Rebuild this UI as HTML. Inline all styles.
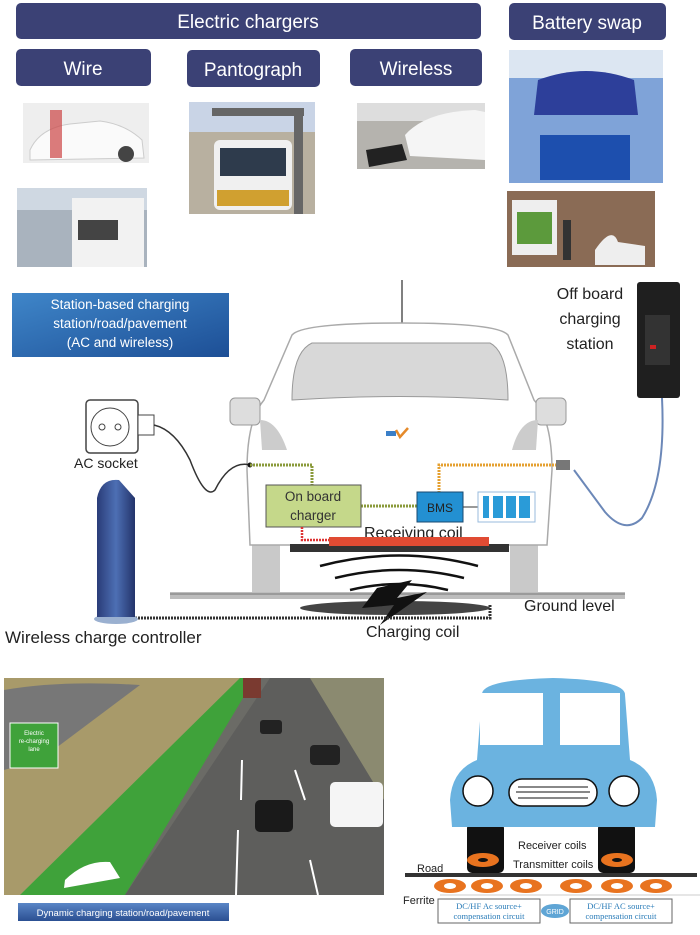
<!DOCTYPE html>
<html><head><meta charset="utf-8"><style>
html,body{margin:0;padding:0;background:#fff;}
svg{display:block;font-family:"Liberation Sans",sans-serif;}
</style></head><body>
<svg width="700" height="935" viewBox="0 0 700 935" xmlns="http://www.w3.org/2000/svg">
<defs>
<linearGradient id="bg1" x1="0" y1="0" x2="1" y2="1"><stop offset="0" stop-color="#3f86c9"/><stop offset="1" stop-color="#1d4f96"/></linearGradient>
<linearGradient id="bg2" x1="0" y1="0" x2="0" y2="1"><stop offset="0" stop-color="#5a86c6"/><stop offset="1" stop-color="#2b4f92"/></linearGradient>
<linearGradient id="pil" x1="0" y1="0" x2="1" y2="0"><stop offset="0" stop-color="#2a3c78"/><stop offset=".5" stop-color="#4d6fb4"/><stop offset="1" stop-color="#23336a"/></linearGradient>
</defs>
<!-- header bars -->
<g fill="#3b4175">
<rect x="16" y="3" width="465" height="36" rx="5"/>
<rect x="509" y="3" width="157" height="37" rx="5"/>
<rect x="16" y="49" width="135" height="37" rx="5"/>
<rect x="187" y="50" width="133" height="37" rx="5"/>
<rect x="350" y="49" width="132" height="37" rx="5"/>
</g>
<g fill="#fff" font-size="19" text-anchor="middle">
<text x="248" y="28">Electric chargers</text>
<text x="587" y="29">Battery swap</text>
<text x="83" y="75">Wire</text>
<text x="253" y="76">Pantograph</text>
<text x="416" y="75">Wireless</text>
</g>
<!-- photos -->
<rect x="23" y="103" width="126" height="60" fill="#eeeeee"/>
<path d="M30 150 Q40 128 70 124 L100 121 Q125 124 142 140 L144 158 L30 160Z" fill="#fafafa" stroke="#ccc"/>
<rect x="50" y="110" width="12" height="48" fill="#c44" opacity=".7"/>
<circle cx="126" cy="154" r="8" fill="#444"/>
<rect x="17" y="188" width="130" height="79" fill="#a9b3be"/>
<rect x="17" y="188" width="130" height="22" fill="#cfd8e2"/>
<rect x="72" y="198" width="72" height="69" fill="#f2f2f2"/>
<rect x="78" y="220" width="40" height="20" fill="#444"/>
<rect x="189" y="102" width="126" height="112" fill="#b8b0a0"/>
<rect x="189" y="102" width="126" height="30" fill="#c9d4e6"/>
<rect x="212" y="108" width="92" height="8" fill="#666"/>
<rect x="294" y="108" width="9" height="106" fill="#666"/>
<rect x="214" y="140" width="78" height="70" rx="6" fill="#f0f0f0"/>
<rect x="220" y="148" width="66" height="28" fill="#2e3b4c"/>
<rect x="217" y="190" width="72" height="16" fill="#d0a030"/>
<rect x="357" y="103" width="128" height="66" fill="#b5b3ae"/>
<rect x="357" y="103" width="128" height="18" fill="#ddd"/>
<path d="M405 135 Q425 112 475 110 L485 112 L485 160 L410 156Z" fill="#f5f5f5"/>
<path d="M366 150 L402 144 L407 160 L369 167Z" fill="#222"/>
<rect x="509" y="50" width="154" height="133" fill="#7fa3d8"/>
<rect x="509" y="50" width="154" height="28" fill="#dce6f2"/>
<path d="M538 80 Q586 62 634 80 L638 115 L534 115Z" fill="#2d3f9a"/>
<rect x="540" y="135" width="90" height="45" fill="#1d4fae"/>
<rect x="507" y="191" width="148" height="76" fill="#8a6b55"/>
<rect x="512" y="200" width="45" height="55" fill="#eee"/>
<rect x="517" y="212" width="35" height="32" fill="#5c9a3c"/>
<rect x="563" y="220" width="8" height="40" fill="#333"/>
<path d="M595 250 Q612 225 618 242 L645 246 L645 265 L595 265Z" fill="#eee"/>
<!-- station label -->
<rect x="12" y="293" width="217" height="64" fill="url(#bg1)"/>
<g fill="#fff" font-size="13.5" text-anchor="middle">
<text x="120" y="309">Station-based charging</text>
<text x="120" y="328">station/road/pavement</text>
<text x="120" y="347">(AC and wireless)</text>
</g>
<!-- off board -->
<rect x="637" y="282" width="43" height="116" rx="3" fill="#1f1f1f"/>
<rect x="645" y="315" width="25" height="50" fill="#333"/>
<rect x="650" y="345" width="6" height="4" fill="#c22"/>
<g font-size="16" fill="#222" text-anchor="middle">
<text x="590" y="299">Off board</text>
<text x="590" y="324">charging</text>
<text x="590" y="349">station</text>
</g>
<path d="M662 398 Q666 480 642 518 Q625 535 605 512 L574 470" fill="none" stroke="#6c88b8" stroke-width="2"/>
<!-- car -->
<line x1="402" y1="280" x2="402" y2="325" stroke="#555" stroke-width="1.5"/>
<rect x="252" y="540" width="28" height="52" fill="#c9c9c9"/>
<rect x="510" y="540" width="28" height="52" fill="#c9c9c9"/>
<path d="M250 545 L247 470 Q247 420 264 400 L292 335 Q302 323 400 323 Q498 323 508 335 L534 400 Q552 420 552 470 L547 545 Z" fill="#fff" stroke="#aaa" stroke-width="1.5"/>
<path d="M292 400 Q292 352 312 343 L490 343 Q508 352 508 400 Q400 393 292 400Z" fill="#d8d8d8" stroke="#999"/>
<rect x="230" y="398" width="30" height="27" rx="5" fill="#ddd" stroke="#999"/>
<rect x="536" y="398" width="30" height="27" rx="5" fill="#ddd" stroke="#999"/>
<path d="M260 420 Q277 420 287 450 L262 450Z" fill="#ccc"/>
<path d="M538 420 Q520 420 512 450 L536 450Z" fill="#ccc"/>
<rect x="386" y="431" width="10" height="5" fill="#3a7fc8"/>
<path d="M396 430 L400 437 L408 428" fill="none" stroke="#e58a2a" stroke-width="2.5"/>
<!-- socket -->
<rect x="86" y="400" width="52" height="53" rx="4" fill="#fff" stroke="#444" stroke-width="1.5"/>
<circle cx="110" cy="427" r="19" fill="#fff" stroke="#444"/>
<circle cx="102" cy="427" r="3" fill="none" stroke="#444"/>
<circle cx="118" cy="427" r="3" fill="none" stroke="#444"/>
<rect x="138" y="415" width="16" height="20" fill="#fff" stroke="#444"/>
<path d="M154 425 Q175 430 190 460 Q205 500 215 490 Q230 460 250 465" fill="none" stroke="#333" stroke-width="1.5"/>
<text x="74" y="468" font-size="14" fill="#222">AC socket</text>
<!-- wiring -->
<circle cx="250" cy="465" r="2.5" fill="#111"/>
<path d="M250 465 L312 465 L312 485" fill="none" stroke="#8a9a3a" stroke-width="3" stroke-dasharray="2 1"/>
<path d="M361 506 L417 506" fill="none" stroke="#8a9a3a" stroke-width="3" stroke-dasharray="2 1"/>
<path d="M439 493 L439 465 L556 465" fill="none" stroke="#e5a030" stroke-width="3" stroke-dasharray="2 1"/>
<rect x="556" y="460" width="14" height="10" fill="#777"/>
<rect x="266" y="485" width="95" height="42" fill="#c5d88a" stroke="#555"/>
<text x="313" y="501" font-size="13.5" text-anchor="middle" fill="#333">On board</text>
<text x="313" y="520" font-size="13.5" text-anchor="middle" fill="#333">charger</text>
<rect x="417" y="492" width="46" height="30" fill="#2390d2" stroke="#1a4a70"/>
<text x="440" y="512" font-size="12" text-anchor="middle" fill="#222">BMS</text>
<line x1="463" y1="507" x2="478" y2="507" stroke="#333"/>
<rect x="478" y="492" width="57" height="30" fill="#fff" stroke="#9bd"/>
<g fill="#2a9bd8"><rect x="483" y="496" width="6" height="22"/><rect x="493" y="496" width="10" height="22"/><rect x="506" y="496" width="10" height="22"/><rect x="519" y="496" width="11" height="22"/></g>
<text x="364" y="538" font-size="16" fill="#222">Receiving coil</text>
<path d="M302 527 L302 540 L329 540" fill="none" stroke="#d33" stroke-width="2.5" stroke-dasharray="2 1"/>
<rect x="290" y="544" width="219" height="8" fill="#333"/>
<rect x="329" y="537" width="160" height="9" fill="#e04b33"/>
<!-- waves -->
<g fill="none" stroke="#111" stroke-width="2.5">
<path d="M320 566 Q399 545 478 566"/>
<path d="M335 578 Q399 562 464 578"/>
<path d="M350 590 Q399 578 448 590"/>
</g>
<rect x="170" y="592" width="455" height="7" fill="#bdbdbd"/>
<line x1="170" y1="594" x2="625" y2="594" stroke="#777"/>
<ellipse cx="395" cy="608" rx="95" ry="7" fill="#444"/>
<path d="M377 588 L412 580 L397 598 L427 592 L380 625 L394 605 L362 608Z" fill="#111"/>
<path d="M135 618 L490 618 L490 604" fill="none" stroke="#333" stroke-width="3" stroke-dasharray="2 1"/>
<text x="524" y="611" font-size="16" fill="#222">Ground level</text>
<text x="366" y="637" font-size="16" fill="#222">Charging coil</text>
<!-- pillar -->
<ellipse cx="116" cy="619" rx="22" ry="5" fill="#9ab0d0"/>
<path d="M97 498 Q101 478 119 480 L135 498 L135 617 L97 617Z" fill="url(#pil)"/>
<text x="5" y="643" font-size="17" fill="#222">Wireless charge controller</text>
<!-- highway photo -->
<rect x="4" y="678" width="380" height="217" fill="#6b6b66"/>
<path d="M4 678 L240 678 L90 895 L4 895Z" fill="#a89a6a"/>
<path d="M4 690 Q60 680 140 685 L40 760 L4 770Z" fill="#777"/>
<path d="M240 678 L255 678 L125 895 L20 895Z" fill="#3fa23a"/>
<path d="M270 678 L384 678 L384 895 L125 895Z" fill="#5e5e5c"/>
<path d="M310 678 L384 678 L384 800Z" fill="#8b8a70"/>
<rect x="10" y="723" width="48" height="45" fill="#3fa23a" stroke="#fff"/>
<text x="34" y="735" font-size="6" fill="#fff" text-anchor="middle">Electric</text>
<text x="34" y="743" font-size="6" fill="#fff" text-anchor="middle">re-charging</text>
<text x="34" y="751" font-size="6" fill="#fff" text-anchor="middle">lane</text>
<rect x="330" y="782" width="53" height="45" rx="5" fill="#f5f5f5"/>
<rect x="255" y="800" width="38" height="32" rx="5" fill="#1a1a1a"/>
<rect x="310" y="745" width="30" height="20" rx="4" fill="#222"/>
<rect x="260" y="720" width="22" height="14" rx="3" fill="#222"/>
<rect x="243" y="678" width="18" height="20" fill="#7a3a30"/>
<g stroke="#fff" stroke-width="2"><line x1="238" y1="830" x2="236" y2="895"/><line x1="242" y1="760" x2="241" y2="800"/><line x1="310" y1="860" x2="318" y2="895"/><line x1="295" y1="770" x2="305" y2="800"/></g>
<path d="M65 880 Q85 860 110 862 L120 878 L64 888Z" fill="#fff"/>
<rect x="18" y="903" width="211" height="18" fill="url(#bg2)"/>
<text x="123" y="916" font-size="9.5" fill="#fff" text-anchor="middle">Dynamic charging station/road/pavement</text>
<!-- blue car -->
<rect x="467" y="823" width="37" height="50" rx="5" fill="#111"/>
<rect x="598" y="823" width="37" height="50" rx="5" fill="#111"/>
<path d="M482 695 Q480 680 553 678 Q626 680 625 695 L630 760 Q655 770 657 800 L655 827 L452 827 L450 800 Q452 770 477 760Z" fill="#6bb3e0"/>
<rect x="480" y="693" width="63" height="52" fill="#fff"/>
<rect x="560" y="693" width="60" height="52" fill="#fff"/>
<circle cx="478" cy="791" r="15" fill="#fff" stroke="#111" stroke-width="1.5"/>
<circle cx="624" cy="791" r="15" fill="#fff" stroke="#111" stroke-width="1.5"/>
<rect x="509" y="779" width="88" height="27" rx="13" fill="#fff" stroke="#111" stroke-width="1.5"/>
<g stroke="#111"><line x1="518" y1="787" x2="588" y2="787"/><line x1="516" y1="792" x2="590" y2="792"/><line x1="518" y1="798" x2="588" y2="798"/></g>
<g fill="#e8731f"><ellipse cx="483" cy="860" rx="16" ry="7"/><ellipse cx="617" cy="860" rx="16" ry="7"/></g>
<g fill="#111"><ellipse cx="483" cy="860" rx="5" ry="2"/><ellipse cx="617" cy="860" rx="5" ry="2"/></g>
<text x="518" y="849" font-size="11" fill="#222">Receiver coils</text>
<text x="513" y="868" font-size="11" fill="#222">Transmitter coils</text>
<text x="417" y="872" font-size="11" fill="#222">Road</text>
<rect x="405" y="873" width="292" height="4" fill="#333"/>
<g fill="#e8731f">
<ellipse cx="450" cy="886" rx="16" ry="7"/><ellipse cx="487" cy="886" rx="16" ry="7"/><ellipse cx="526" cy="886" rx="16" ry="7"/>
<ellipse cx="576" cy="886" rx="16" ry="7"/><ellipse cx="617" cy="886" rx="16" ry="7"/><ellipse cx="656" cy="886" rx="16" ry="7"/>
</g>
<g fill="#fff">
<ellipse cx="450" cy="886" rx="6" ry="3"/><ellipse cx="487" cy="886" rx="6" ry="3"/><ellipse cx="526" cy="886" rx="6" ry="3"/>
<ellipse cx="576" cy="886" rx="6" ry="3"/><ellipse cx="617" cy="886" rx="6" ry="3"/><ellipse cx="656" cy="886" rx="6" ry="3"/>
</g>
<line x1="440" y1="895" x2="700" y2="895" stroke="#ccc"/>
<text x="403" y="904" font-size="11" fill="#222">Ferrite</text>
<rect x="438" y="899" width="102" height="24" fill="#fff" stroke="#666"/>
<rect x="570" y="899" width="102" height="24" fill="#fff" stroke="#666"/>
<g font-family="Liberation Serif,serif" font-size="8.5" fill="#2a7cb8" text-anchor="middle">
<text x="489" y="909">DC/HF Ac source+</text><text x="489" y="919">compensation circuit</text>
<text x="621" y="909">DC/HF AC source+</text><text x="621" y="919">compensation circuit</text>
</g>
<ellipse cx="555" cy="911" rx="14" ry="7" fill="#5fa5d5"/>
<text x="555" y="914" font-size="7" fill="#fff" text-anchor="middle">GRID</text>
</svg>
</body></html>
